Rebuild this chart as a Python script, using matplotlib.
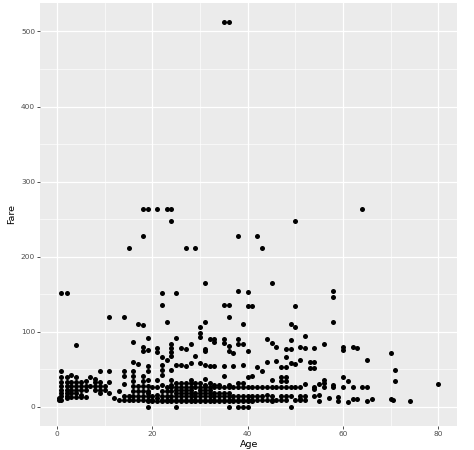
import matplotlib
matplotlib.use('Agg')
import matplotlib.pyplot as plt
import numpy as np
from matplotlib.ticker import MultipleLocator

# Age / Fare columns: (age, [fares at that age])
young_cols = [
    (0.4, [9.3, 11.6]),
    (0.9, [47.1, 39.6, 33.3, 28, 22.7, 18.2, 13.8, 9.3, 151.55]),
    (2, [39.6, 33.3, 28, 22.7, 18.2, 13.8, 11.6, 151.55]),
    (3, [41.8, 33.3, 28, 22.7, 18.2, 12.4]),
    (4, [39.6, 33.3, 28, 22.7, 18.2, 12.4, 81.86]),
    (5, [33.3, 28, 22.7, 16, 12.4]),
    (6, [34.7, 28, 22.7, 12.4]),
    (7, [39.6, 28]),
    (8, [37.3, 33.3, 28, 22.7]),
    (9, [47.1, 33.3, 28, 22.7, 18.2]),
    (10, [28, 22.7]),
    (11, [47.1, 33.3, 18.2, 120]),
    (12, [11.6]),
    (13, [20.4, 9.3]),
    (14, [47.1, 40.4, 30.7, 13.8, 9.3, 120]),
    (15, [13.8, 9.3, 211.34]),
    (16, [47.1, 40.4, 33.8, 27.1, 20.4, 13.8, 9.3, 86.5, 59.1]),
    (17, [27.1, 20.4, 13.8, 9.3, 110.9, 57.3]),
    (18, [40.4, 33.8, 27.1, 20.4, 13.8, 9.3, 108.9, 79.65, 73.8, 227.5, 263]),
]

middle_cols = [
    (19, [7.5, 47.1, 53.8, 36, 27.1, 20.4, 18.2, 13.8, 9.3, 0, 91.08, 76, 263]),
    (20, [7.5, 13.8, 9.3, 26.2]),
    (21, [7.5, 78.2, 72.4, 36, 26.2, 16, 11.6, 263]),
    (22, [7.5, 66.2, 56, 49.3, 42.7, 29.3, 13.8, 9.3, 20.4, 151.55, 135.6]),
    (23, [7.5, 62.7, 26.2, 20.4, 13.8, 9.3, 113.3, 263]),
    (24, [7.5, 84, 78.2, 72.4, 67.1, 49.3, 36, 29.3, 26.2, 20.4, 13.8, 9.3, 263, 247.5]),
    (25, [7.5, 91.08, 56, 31.6, 26.2, 22.7, 18.2, 13.8, 9.3, 0, 151.55]),
    (26, [7.5, 78.2, 56, 31.6, 26.2, 22.7, 18.2, 13.8, 9.3]),
    (27, [7.5, 76.9, 53.8, 31.6, 26.2, 22.7, 18.2, 13.8, 9.3, 211.5]),
    (28, [7.5, 83.6, 58.2, 36, 31.6, 26.2, 22.7, 18.2, 13.8, 9.3]),
    (29, [7.5, 67.1, 31.6, 26.2, 18.2, 13.8, 9.3, 211.5]),
    (30, [7.5, 98, 92.9, 58.2, 31.6, 26.2, 22.7, 18.2, 13.8, 9.3, 106.4]),
    (31, [7.5, 76.9, 73.8, 56, 37.3, 29.3, 26.2, 22.7, 18.2, 13.8, 9.3, 113.3, 164.9]),
    (32, [7.5, 90.2, 53.8, 31.6, 26.2, 22.7, 18.2, 13.8, 9.3]),
    (33, [7.5, 90.2, 86.2, 53.8, 29.3, 26.2, 18.2, 13.8, 9.3]),
    (34, [7.5, 29.3, 26.2, 18.2, 13.8, 9.3]),
    (35, [7.5, 90.2, 84.9, 53.8, 41.3, 26.2, 18.2, 13.8, 9.3, 135.6, 512.33]),
    (36, [7.5, 80.5, 73.8, 29.3, 26.2, 18.2, 13.8, 9.3, 0, 120, 135.6, 512.33]),
    (37, [7.5, 71.6, 53.8, 26.2, 13.8, 9.3]),
    (38, [7.5, 90.2, 83.6, 31.6, 26.2, 13.8, 9.3, 0, 227.5, 153.8]),
    (39, [7.5, 84, 56, 31.6, 26.2, 13.8, 9.3, 0, 110.9]),
    (40, [7.5, 73.8, 39.6, 26.2, 13.8, 9.3, 0, 153.5, 134.5]),
    (41, [7.5, 40.4, 26.2, 13.8, 9.3, 134.5]),
]

old_cols = [
    (42, [227.5, 52.4, 26.2, 13.8, 9.3]),
    (43, [211.5, 47, 26.2, 13.8, 9.3]),
    (44, [90.3, 59, 26.2, 16, 9.3]),
    (45, [165, 84.4, 36, 26.2, 13.8, 9.3, 7.1]),
    (46, [79.6, 61.3, 26.2, 9.3]),
    (47, [52.4, 39.6, 33.8, 26.2, 13.8, 9.3]),
    (48, [77, 65.8, 52.4, 39.6, 33.8, 26.2, 13.8, 9.3]),
    (49, [110.9, 89.3, 77, 58.2, 26.2, 13.8, 0]),
    (50, [247.5, 133.7, 106.4, 57, 26.2, 9.3]),
    (51, [79, 61.7, 27, 13.8, 11, 9.3]),
    (52, [93.8, 78, 30.7, 13.8, 9.3]),
    (53, [59, 52]),
    (54, [77.8, 60, 52, 26.2, 23.6, 13.8]),
    (55, [30.7, 16, 8]),
    (56, [83.6, 35.5, 31.5, 27]),
    (57, [11.5]),
    (58, [153.8, 146.7, 113.3, 29.3, 26.2]),
    (59, [13.3, 7.9]),
    (60, [79, 75, 39.6, 26.7]),
    (61, [33.8, 6.7]),
    (62, [80, 26.6, 10.7]),
    (63, [77.8, 10.7]),
    (64, [263, 26.2]),
    (65, [62.2, 26.2, 8]),
    (66, [10.7]),
    (70, [71, 10.7]),
    (70.5, [8.4]),
    (71, [49.5, 35]),
    (74, [7.8]),
    (80, [30]),
]

age = []
fare = []
for a, fs in young_cols + middle_cols + old_cols:
    for f in fs:
        age.append(a)
        fare.append(f)
age = np.array(age)
fare = np.array(fare)

fig = plt.figure(figsize=(4.74, 4.5), dpi=100)
ax = fig.add_axes([40/474, 24/450, 417.3/474, 423/450])
ax.set_facecolor('#EBEBEB')
for s in ax.spines.values():
    s.set_visible(False)

ax.scatter(age, fare, s=13, c='black', linewidths=0, zorder=3)

# ggplot style 5% expansion
xr = age.max() - age.min()
yr = fare.max() - fare.min()
ax.set_xlim(age.min() - 0.05*xr, age.max() + 0.05*xr)
ax.set_ylim(fare.min() - 0.05*yr, fare.max() + 0.05*yr)

ax.xaxis.set_major_locator(MultipleLocator(20))
ax.xaxis.set_minor_locator(MultipleLocator(10))
ax.yaxis.set_major_locator(MultipleLocator(100))
ax.yaxis.set_minor_locator(MultipleLocator(50))
ax.grid(which='major', color='white', linewidth=0.9, zorder=0)
ax.grid(which='minor', color='white', linewidth=0.45, zorder=0)
ax.set_axisbelow(True)

ax.tick_params(which='major', length=2, width=0.6, color='#333333',
               labelsize=5.3, labelcolor='#4D4D4D', pad=1.5)
ax.tick_params(which='minor', length=0)

ax.set_xlabel('Age', fontsize=6.8, labelpad=2)
ax.set_ylabel('Fare', fontsize=6.8)
ax.yaxis.set_label_coords(-0.058, 0.5)

fig.savefig('out.png', dpi=100, facecolor='white')
